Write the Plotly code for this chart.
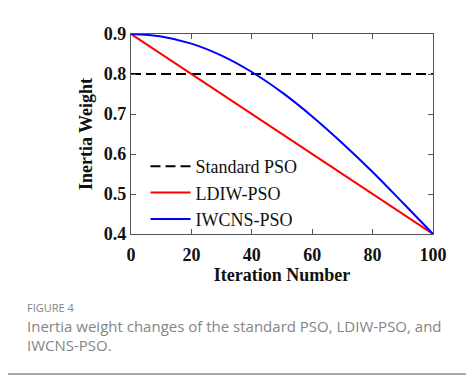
import plotly.graph_objects as go

iterations = [0, 10, 20, 30, 40, 50, 60, 70, 80, 90, 100]
standard_pso = [0.8, 0.8, 0.8, 0.8, 0.8, 0.8, 0.8, 0.8, 0.8, 0.8, 0.8]
ldiw_pso = [0.9, 0.85, 0.8, 0.75, 0.7, 0.65, 0.6, 0.55, 0.5, 0.45, 0.4]
iwcns_pso = [0.900, 0.894, 0.876, 0.846, 0.805, 0.754, 0.694, 0.627, 0.555, 0.478, 0.400]

x_ticks = [0, 20, 40, 60, 80, 100]
y_ticks = [0.4, 0.5, 0.6, 0.7, 0.8, 0.9]
y_tick_labels = ["0.4", "0.5", "0.6", "0.7", "0.8", "0.9"]

serif = "Liberation Serif, Times New Roman, serif"
sans = "Open Sans, Noto Sans, sans-serif"

fig = go.Figure()
fig.add_trace(go.Scatter(x=iterations, y=standard_pso, mode="lines", name="Standard PSO",
                         line=dict(color="black", width=2, dash="10px,5px")))
fig.add_trace(go.Scatter(x=iterations, y=ldiw_pso, mode="lines", name="LDIW-PSO",
                         line=dict(color="#ff0000", width=2)))
fig.add_trace(go.Scatter(x=iterations, y=iwcns_pso, mode="lines", name="IWCNS-PSO",
                         line=dict(color="#0000ff", width=2, shape="spline")))

axis_common = dict(showline=True, linecolor="#555555", linewidth=1.2, mirror="ticks",
                   ticks="inside", ticklen=5, tickcolor="#555555", showgrid=False,
                   zeroline=False, tickfont=dict(family=serif, size=18, color="#111111"))

fig.update_xaxes(range=[0, 100], tickvals=x_ticks, ticktext=["<b>%d</b>" % t for t in x_ticks],
                 ticklabelstandoff=4,
                 title=dict(text="<b>Iteration Number</b>", font=dict(family=serif, size=18, color="#111111"), standoff=3),
                 **axis_common)
fig.update_yaxes(range=[0.4, 0.9], tickvals=y_ticks, ticktext=["<b>%s</b>" % t for t in y_tick_labels],
                 title=dict(text="<b>Inertia Weight</b>", font=dict(family=serif, size=18, color="#111111"), standoff=6),
                 **axis_common)

fig.update_layout(
    width=474, height=376,
    margin=dict(l=123, r=49, t=26, b=150),
    paper_bgcolor="white", plot_bgcolor="white",
    showlegend=True,
    legend=dict(x=0.048, y=0.43, xanchor="left", yanchor="top", bgcolor="rgba(0,0,0,0)",
                font=dict(family=serif, size=18, color="#111111"), tracegroupgap=0,
                itemwidth=40),
    annotations=[
        dict(text="FIGURE 4", xref="paper", yref="paper", x=-0.35, y=-0.365,
             xanchor="left", yanchor="middle", showarrow=False,
             font=dict(family=sans, size=11, color="#858585")),
        dict(text="Inertia weight changes of the standard PSO, LDIW-PSO, and",
             xref="paper", yref="paper", x=-0.35, y=-0.46, xanchor="left", yanchor="middle",
             align="left", showarrow=False,
             font=dict(family=sans, size=15, color="#858585")),
        dict(text="IWCNS-PSO.",
             xref="paper", yref="paper", x=-0.35, y=-0.555, xanchor="left", yanchor="middle",
             align="left", showarrow=False,
             font=dict(family=sans, size=15, color="#858585")),
    ],
    shapes=[dict(type="line", xref="paper", yref="paper", x0=-0.434, x1=1.136, y0=-0.7, y1=-0.7,
                 line=dict(color="#aaaaaa", width=2))],
)

fig.write_html("out.html")
